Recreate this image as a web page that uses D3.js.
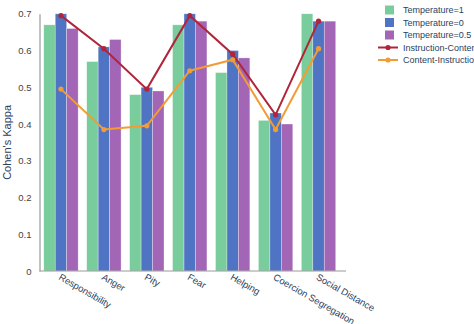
<!DOCTYPE html>
<html><head><meta charset="utf-8">
<script src="https://cdn.jsdelivr.net/npm/d3@7"></script>
<style>body{margin:0;background:#fff;}svg{display:block;font-family:"Liberation Sans",Arial,sans-serif;}</style>
</head><body>
<svg id="c" width="474" height="324"></svg>
<script>
const categories = ["Responsibility","Anger","Pity","Fear","Helping","Coercion Segregation","Social Distance"];
const temp1 = [0.67,0.57,0.48,0.67,0.54,0.41,0.70];
const temp0 = [0.70,0.61,0.50,0.70,0.60,0.43,0.68];
const temp05 = [0.66,0.63,0.49,0.68,0.58,0.40,0.68];
const instrContent = [0.695,0.605,0.495,0.695,0.59,0.425,0.68];
const contentInstr = [0.495,0.385,0.395,0.545,0.575,0.385,0.605];
const yTicks = [0,0.1,0.2,0.3,0.4,0.5,0.6,0.7];
const barSeries = [
  {name:"Temperature=1", values:temp1, color:"#79cc9c"},
  {name:"Temperature=0", values:temp0, color:"#4f74c4"},
  {name:"Temperature=0.5", values:temp05, color:"#a366b6"}
];
const lineSeries = [
  {name:"Instruction-Content", values:instrContent, color:"#b0253a"},
  {name:"Content-Instruction", values:contentInstr, color:"#f39c34"}
];

const svg = d3.select("#c");
const m = {l:39.5, r:134, t:0, b:53};
const W = 474, H = 324;
const x0 = d3.scaleBand().domain(categories).range([m.l, W - m.r]).paddingInner(0.2).paddingOuter(0.1);
const x1 = d3.scaleBand().domain(barSeries.map(d=>d.name)).range([0, x0.bandwidth()]);
const y = d3.scaleLinear().domain([0, 0.7]).range([271, 13.8]);

const g = svg.append("g");
barSeries.forEach(s => {
  g.selectAll(null).data(s.values).enter().append("rect")
    .attr("x", (d,i) => x0(categories[i]) + x1(s.name))
    .attr("y", d => y(d))
    .attr("width", x1.bandwidth())
    .attr("height", d => y(0) - y(d))
    .attr("fill", s.color)
    .attr("stroke", "rgba(255,255,255,0.5)")
    .attr("stroke-width", 0.6);
});

lineSeries.forEach(s => {
  const line = d3.line().x((d,i) => x0(categories[i]) + x0.bandwidth()/2).y(d => y(d));
  g.append("path").datum(s.values).attr("d", line).attr("fill","none")
    .attr("stroke", s.color).attr("stroke-width", 2);
  g.selectAll(null).data(s.values).enter().append("circle")
    .attr("cx", (d,i) => x0(categories[i]) + x0.bandwidth()/2)
    .attr("cy", d => y(d)).attr("r", 2.6).attr("fill", s.color);
});

// y axis
const yAxis = d3.axisLeft(y).tickValues(yTicks).tickSize(0).tickPadding(8).tickFormat(d => d === 0 ? "0" : d3.format(".1f")(d));
const ya = svg.append("g").attr("transform", `translate(${m.l},0)`).call(yAxis);
ya.select(".domain").attr("stroke", "#999").attr("stroke-width", 1.2);
ya.selectAll("text").attr("fill", "#444").style("font-size", "9.5px");

// x axis
const xAxis = d3.axisBottom(x0).tickSize(0).tickPadding(0);
const xa = svg.append("g").attr("transform", `translate(0,${y(0)})`).call(xAxis);
xa.select(".domain").attr("stroke", "#999").attr("stroke-width", 1.2).attr("d", `M${m.l},0H${W - m.r + 6}`);
xa.selectAll("text").attr("fill", "#2a3f5f").style("font-size", "9.5px")
  .attr("text-anchor", "start").attr("dy", null).attr("y", 0)
  .attr("transform", "translate(-3,8) rotate(30)");

// y title
svg.append("text").attr("transform", `translate(11,${(y(0)+y(0.7))/2}) rotate(-90)`)
  .attr("text-anchor", "middle").attr("fill", "#2a3f5f").style("font-size", "11px").text("Cohen's Kappa");

// legend
const lg = svg.append("g");
barSeries.forEach((s,i) => {
  const yy = 10 + i * 12.5;
  lg.append("rect").attr("x", 385).attr("y", yy - 4.5).attr("width", 9).attr("height", 9).attr("fill", s.color);
  lg.append("text").attr("x", 403).attr("y", yy + 3.3).attr("fill", "#2a3f5f").style("font-size", "9px").text(s.name);
});
lineSeries.forEach((s,i) => {
  const yy = 47.5 + i * 12.5;
  lg.append("line").attr("x1", 378).attr("x2", 398).attr("y1", yy).attr("y2", yy).attr("stroke", s.color).attr("stroke-width", 2);
  lg.append("circle").attr("cx", 388).attr("cy", yy).attr("r", 2.6).attr("fill", s.color);
  lg.append("text").attr("x", 403).attr("y", yy + 3.3).attr("fill", "#2a3f5f").style("font-size", "9px").text(s.name);
});
</script>
</body></html>
